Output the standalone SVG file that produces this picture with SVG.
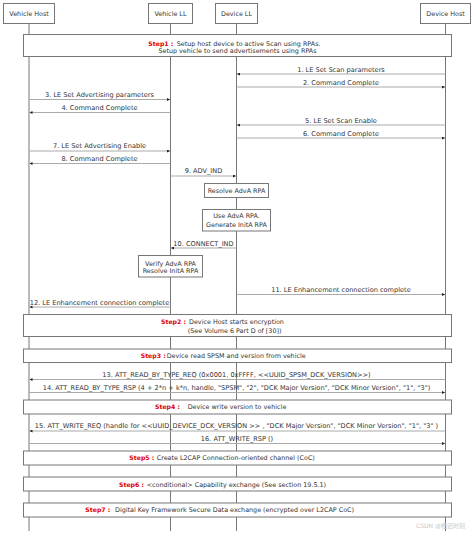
<svg xmlns="http://www.w3.org/2000/svg" width="474" height="534" viewBox="0 0 474 534">
<defs>
<style>
text{font-family:"DejaVu Sans","Noto Sans CJK SC",sans-serif;font-size:6.4px;fill:#333}
.c{text-anchor:middle}
.m{font-size:6.6px}
.h{font-size:6.4px}
.box{fill:#fff;stroke:#777;stroke-width:1}
.life{stroke:#777;stroke-width:1}
.msg{stroke:#aaa;stroke-width:1;fill:none}
.r{marker-end:url(#ah)}
.step{fill:#e00000;font-weight:bold;font-size:6.2px}
.wm{fill:#c8c8c8;font-size:6px}
</style>
<marker id="ah" markerWidth="3" markerHeight="3" refX="3" refY="1.5" orient="auto" markerUnits="userSpaceOnUse">
<path d="M0,0 L3,1.5 L0,3 z" fill="#222"/>
</marker>
</defs>
<rect width="474" height="534" fill="#fff"/>
<g id="lifelines">
<line class="life" x1="29" y1="23" x2="29" y2="531"/>
<line class="life" x1="170.5" y1="23" x2="170.5" y2="531"/>
<line class="life" x1="236.5" y1="23" x2="236.5" y2="531"/>
<line class="life" x1="445.5" y1="23" x2="445.5" y2="531"/>
</g>
<g id="vehicle-host"><rect class="box" x="3.5" y="3.5" width="51" height="20"/><text class="c h" x="29" y="15.5">Vehicle Host</text></g>
<g id="vehicle-ll"><rect class="box" x="148.5" y="3.5" width="44" height="20"/><text class="c h" x="170.5" y="15.5">Vehicle LL</text></g>
<g id="device-ll"><rect class="box" x="215.5" y="3.5" width="42" height="20"/><text class="c h" x="236.5" y="15.5">Device LL</text></g>
<g id="device-host"><rect class="box" x="420.5" y="3.5" width="50" height="20"/><text class="c h" x="445.5" y="15.5">Device Host</text></g>

<g id="step1"><rect class="box" x="23.5" y="34.5" width="428" height="22"/>
<text x="148.3" y="45.5"><tspan class="step">Step1 :</tspan></text><text x="176.7" y="45.5">Setup host device to active Scan using RPAs.</text>
<text class="c" x="237.5" y="52.5">Setup vehicle to send advertisements using RPAs</text></g>

<g id="connectors">
<line class="msg r" x1="445.5" y1="74" x2="237" y2="74"/>
<line class="msg r" x1="236.5" y1="87" x2="445" y2="87"/>
<line class="msg r" x1="29" y1="99.5" x2="170" y2="99.5"/>
<line class="msg r" x1="170.5" y1="112.5" x2="29.5" y2="112.5"/>
<line class="msg r" x1="445.5" y1="125" x2="237" y2="125"/>
<line class="msg r" x1="236.5" y1="138" x2="445" y2="138"/>
<line class="msg r" x1="29" y1="151" x2="170" y2="151"/>
<line class="msg r" x1="170.5" y1="163.5" x2="29.5" y2="163.5"/>
<line class="msg r" x1="170.5" y1="176" x2="236" y2="176"/>
<line class="msg r" x1="236.5" y1="248" x2="171" y2="248"/>
<line class="msg r" x1="236.5" y1="294.5" x2="445" y2="294.5"/>
<line class="msg r" x1="170.5" y1="307" x2="29.5" y2="307"/>
<line class="msg r" x1="445.5" y1="379.5" x2="29.5" y2="379.5"/>
<line class="msg r" x1="29" y1="392.5" x2="445" y2="392.5"/>
<line class="msg r" x1="445.5" y1="431" x2="29.5" y2="431"/>
<line class="msg r" x1="29" y1="443.5" x2="445" y2="443.5"/>
</g>
<g id="labels">
<text class="c m" x="341" y="71.5">1. LE Set Scan parameters</text>
<text class="c m" x="341" y="84.5">2. Command Complete</text>
<text class="c m" x="99.5" y="97">3. LE Set Advertising parameters</text>
<text class="c m" x="99.5" y="109.5">4. Command Complete</text>
<text class="c m" x="341" y="122.5">5. LE Set Scan Enable</text>
<text class="c m" x="341" y="135.5">6. Command Complete</text>
<text class="c m" x="99.5" y="148">7. LE Set Advertising Enable</text>
<text class="c m" x="99.5" y="160.5">8. Command Complete</text>
<text class="c m" x="203.5" y="173.3">9. ADV_IND</text>
<text class="c m" x="203.5" y="245.5">10. CONNECT_IND</text>
<text class="c m" x="341" y="292">11. LE Enhancement connection complete</text>
<text class="c m" x="99.5" y="304.8">12. LE Enhancement connection complete</text>
<text class="c m" x="236.5" y="377.2">13. ATT_READ_BY_TYPE_REQ (0x0001, 0xFFFF, &lt;&lt;UUID_SPSM_DCK_VERSION&gt;&gt;)</text>
<text class="c m" x="236.5" y="390">14. ATT_READ_BY_TYPE_RSP (4 + 2*n + k*n, handle, "SPSM", "2", "DCK Major Version", "DCK Minor Version", "1", "3")</text>
<text class="c m" x="236.5" y="428.3">15. ATT_WRITE_REQ (handle for &lt;&lt;UUID_DEVICE_DCK_VERSION &gt;&gt; , "DCK Major Version", "DCK Minor Version", "1", "3" )</text>
<text class="c m" x="237" y="441">16. ATT_WRITE_RSP ()</text>
</g>

<g id="resolve-adva"><rect class="box" x="204.5" y="183.5" width="64" height="14"/><text class="c h" x="236.5" y="192.7">Resolve AdvA RPA</text></g>
<g id="use-adva"><rect class="box" x="202.5" y="209.5" width="68" height="21.5"/><text class="c h" x="236.5" y="218.3">Use AdvA RPA.</text><text class="c h" x="236.5" y="226.6">Generate InitA RPA</text></g>
<g id="verify-adva"><rect class="box" x="138.5" y="255.5" width="64" height="21.5"/><text class="c h" x="170.5" y="265.5">Verify AdvA RPA</text><text class="c h" x="170.5" y="273">Resolve InitA RPA</text></g>

<g id="step2"><rect class="box" x="23.5" y="314.5" width="428" height="22"/>
<text x="161" y="324.2"><tspan class="step">Step2 :</tspan></text><text x="189" y="324.2">Device Host starts encryption</text>
<text x="187.7" y="332.6">(See Volume 6 Part D of [30])</text></g>
<g id="step3"><rect class="box" x="23.5" y="349" width="428" height="13.5"/>
<text x="140.7" y="358"><tspan class="step">Step3 :</tspan></text><text x="166.7" y="358">Device read SPSM and version from vehicle</text></g>
<g id="step4"><rect class="box" x="23.5" y="400" width="428" height="14"/>
<text x="155" y="409"><tspan class="step">Step4 :</tspan></text><text x="187.7" y="409">Device write version to vehicle</text></g>
<g id="step5"><rect class="box" x="23.5" y="451" width="428" height="14"/>
<text x="129.3" y="460"><tspan class="step">Step5 :</tspan></text><text x="156.7" y="460">Create L2CAP Connection-oriented channel (CoC)</text></g>
<g id="step6"><rect class="box" x="23.5" y="477" width="428" height="14"/>
<text x="119" y="486.5"><tspan class="step">Step6 :</tspan></text><text x="146.7" y="486.5">&lt;conditional&gt; Capability exchange (See section 19.5.1)</text></g>
<g id="step7"><rect class="box" x="23.5" y="503" width="428" height="14"/>
<text x="85.3" y="512.2"><tspan class="step">Step7 :</tspan></text><text x="115" y="512.2">Digital Key Framework Secure Data exchange (encrypted over L2CAP CoC)</text></g>
<text class="wm" x="416" y="527.5">CSDN @栖迟时刻</text>
</svg>
